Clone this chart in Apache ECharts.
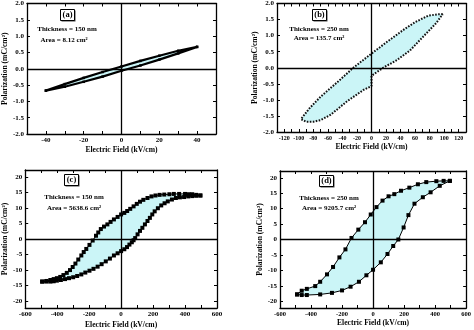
<!DOCTYPE html>
<html><head><meta charset="utf-8">
<script src="https://cdn.jsdelivr.net/npm/echarts@6/dist/echarts.min.js"></script>
<style>html,body{margin:0;padding:0;background:#fff}#c{width:474px;height:330px}</style>
</head><body><div id="c"></div>
<script>
// ---- Panel (a) ----
const aUpperE = [40, 30, 20, 10, 0, -10, -20, -30, -40];
const aUpperP = [0.67, 0.55, 0.40, 0.24, 0.07, -0.10, -0.28, -0.47, -0.67];
const aLowerE = [-40, -30, -20, -10, 0, 10, 20, 30, 40];
const aLowerP = [-0.67, -0.55, -0.40, -0.24, -0.06, 0.10, 0.28, 0.47, 0.67];
// ---- Panel (b) ----
const bUpperE = [98, 90, 78, 60, 44, 21, 0, -25, -47, -70, -86, -97];
const bUpperP = [1.67, 1.66, 1.62, 1.42, 1.18, 0.80, 0.44, 0.00, -0.45, -0.90, -1.28, -1.60];
const bLowerE = [-97, -90, -80, -70, -56, -34, -11, 0, 0, 16, 35, 53, 75, 89, 98];
const bLowerP = [-1.60, -1.68, -1.68, -1.63, -1.46, -1.05, -0.69, -0.57, -0.25, 0.00, 0.24, 0.54, 1.06, 1.39, 1.67];
// ---- Panel (c) ----
const cUpperE = [496, 470, 445, 424, 400, 363, 330, 302, 270, 241, 215, 190, 165, 139, 118, 98, 78, 57, 38, 20, 0, -22, -45, -66, -86, -107, -127, -143, -157, -178, -198, -218, -234, -249, -268, -286, -303, -320, -340, -361, -381, -402, -422, -443, -468, -494];
const cUpperP = [14.0, 14.2, 14.4, 14.4, 14.5, 14.5, 14.5, 14.4, 14.3, 14.2, 14.0, 13.7, 13.2, 12.6, 12.0, 11.3, 10.5, 9.7, 9.0, 8.4, 7.9, 7.1, 6.3, 5.5, 4.7, 4.0, 3.2, 2.1, 1.05, -0.5, -1.9, -3.2, -4.2, -5.3, -6.6, -7.9, -9.0, -10.0, -10.9, -11.6, -12.2, -12.6, -12.9, -13.2, -13.5, -13.7];
const cLowerE = [-494, -468, -443, -422, -402, -377, -351, -326, -300, -275, -249, -224, -198, -173, -147, -122, -96, -70, -45, -22, 0, 20, 37, 52, 67, 78, 88, 103, 118, 133, 149, 165, 180, 195, 210, 230, 251, 272, 292, 318, 343, 368, 394, 420, 445, 470, 496];
const cLowerP = [-13.7, -13.7, -13.7, -13.6, -13.4, -13.2, -12.9, -12.6, -12.3, -11.9, -11.4, -10.8, -10.2, -9.6, -8.9, -8.1, -7.2, -6.3, -5.3, -4.6, -3.9, -3.3, -2.6, -1.8, -1.05, -0.4, 0.3, 1.5, 2.6, 3.6, 4.7, 5.8, 6.8, 7.9, 8.9, 9.9, 10.8, 11.5, 12.1, 12.7, 13.2, 13.4, 13.5, 13.7, 13.8, 13.9, 14.0];
// ---- Panel (d) ----
const dUpperE = [495, 455, 408, 343, 289, 234, 180, 137, 100, 61, 22, -15, -52, -95, -139, -178, -217, -258, -297, -341, -373, -427, -460, -490];
const dUpperP = [19.0, 19.0, 18.9, 18.6, 17.9, 16.8, 15.8, 14.7, 14.0, 12.6, 10.5, 8.1, 5.6, 3.2, 0.5, -3.2, -5.8, -8.9, -11.3, -13.7, -15.1, -16.0, -16.6, -17.8];
const dLowerE = [-490, -460, -427, -341, -265, -200, -145, -91, -43, 0, 50, 93, 130, 163, 197, 228, 267, 321, 371, 430, 495];
const dLowerP = [-17.8, -18.0, -18.0, -17.8, -17.3, -16.5, -15.3, -13.7, -11.6, -9.8, -7.4, -4.7, -2.1, 0.0, 3.9, 7.9, 11.6, 13.7, 15.3, 17.4, 19.0];

// ---- tick labels ----
const aXLabels = [-40, -20, 0, 20, 40];
const aXTicks = [-40, -30, -20, -10, 0, 10, 20, 30, 40];
const abYLabels = [-2.0, -1.5, -1.0, -0.5, 0.0, 0.5, 1.0, 1.5, 2.0];
const bXLabels = [-120, -100, -80, -60, -40, -20, 0, 20, 40, 60, 80, 100, 120];
const bXTicks = [-120, -110, -100, -90, -80, -70, -60, -50, -40, -30, -20, -10, 0, 10, 20, 30, 40, 50, 60, 70, 80, 90, 100, 110, 120];
const cdXLabels = [-600, -400, -200, 0, 200, 400, 600];
const cdXTicks = [-600, -500, -400, -300, -200, -100, 0, 100, 200, 300, 400, 500, 600];
const cdYLabels = [-20, -15, -10, -5, 0, 5, 10, 15, 20];

const zip = (xs, ys) => xs.map((x, i) => [x, ys[i]]);
const loops = [
  zip(aUpperE, aUpperP).concat(zip(aLowerE, aLowerP)),
  zip(bUpperE, bUpperP).concat(zip(bLowerE, bLowerP)),
  zip(cUpperE, cUpperP).concat(zip(cLowerE, cLowerP)),
  zip(dUpperE, dUpperP).concat(zip(dLowerE, dLowerP))
];

const FONT = '"Liberation Serif", "DejaVu Serif", serif';
const FILL = '#cbf5f7';
const grids = [
  {left: 24, top: 1, width: 192, height: 133},
  {left: 277, top: 2, width: 189, height: 130},
  {left: 24, top: 170, width: 193, height: 139},
  {left: 280, top: 171, width: 189, height: 137}
];
const xCfg = [
  {min: -50, max: 50, labels: aXLabels, ticks: aXTicks, fs: 7, gap: 12},
  {min: -130, max: 130, labels: bXLabels, ticks: bXTicks, fs: 6, gap: 11},
  {min: -600, max: 600, labels: cdXLabels, ticks: cdXTicks, fs: 7, gap: 13},
  {min: -600, max: 600, labels: cdXLabels, ticks: cdXTicks, fs: 6.5, gap: 8}
];
const yCfg = [
  {min: -2, max: 2, labels: abYLabels, fmt: v => Number(v).toFixed(1), gap: 13},
  {min: -2, max: 2, labels: abYLabels, fmt: v => Number(v).toFixed(1), gap: 14},
  {min: -22.2, max: 22.2, labels: cdYLabels, fmt: v => String(v), gap: 14},
  {min: -22.2, max: 22.2, labels: cdYLabels, fmt: v => String(v), gap: 13}
];

const axLine = {onZero: false, lineStyle: {color: '#000', width: 1.3}};
const xAxis = [], yAxis = [], series = [];
for (let i = 0; i < 4; i++) {
  const xc = xCfg[i], yc = yCfg[i];
  xAxis.push({
    gridIndex: i, type: 'value', position: 'bottom', min: xc.min, max: xc.max,
    axisLine: axLine,
    axisTick: {inside: true, length: 3, customValues: xc.ticks, lineStyle: {color: '#000'}},
    axisLabel: {customValues: xc.labels, fontFamily: FONT, fontWeight: 'bold', fontSize: xc.fs, color: '#000', margin: 3},
    splitLine: {show: false},
    name: 'Electric Field (kV/cm)', nameLocation: 'middle', nameGap: xc.gap,
    nameTextStyle: {fontFamily: FONT, fontWeight: 'bold', fontSize: 7.6, color: '#000'}
  });
  xAxis.push({
    gridIndex: i, type: 'value', position: 'top', min: xc.min, max: xc.max,
    axisLine: axLine,
    axisTick: {inside: true, length: 3, customValues: xc.ticks, lineStyle: {color: '#000'}},
    axisLabel: {show: false}, splitLine: {show: false}
  });
  yAxis.push({
    gridIndex: i, type: 'value', position: 'left', min: yc.min, max: yc.max,
    axisLine: axLine,
    axisTick: {inside: true, length: 3, customValues: yc.labels, lineStyle: {color: '#000'}},
    axisLabel: {customValues: yc.labels, formatter: yc.fmt, fontFamily: FONT, fontWeight: 'bold', fontSize: 7, color: '#000', margin: 3},
    splitLine: {show: false},
    name: 'Polarization (mC/cm²)', nameLocation: 'middle', nameGap: yc.gap,
    nameTextStyle: {fontFamily: FONT, fontWeight: 'bold', fontSize: 7.6, color: '#000'}
  });
  yAxis.push({
    gridIndex: i, type: 'value', position: 'right', min: yc.min, max: yc.max,
    axisLine: axLine,
    axisTick: {inside: true, length: 3, customValues: yc.labels, lineStyle: {color: '#000'}},
    axisLabel: {show: false}, splitLine: {show: false}
  });
  const loop = loops[i];
  series.push({
    type: 'custom', xAxisIndex: 2 * i, yAxisIndex: 2 * i, data: [[0, 0]], silent: true, z: 1,
    renderItem: (params, api) => ({
      type: 'polygon',
      shape: {points: loop.map(p => api.coord(p))},
      style: {fill: FILL, stroke: 'none'}
    })
  });
  const st = [
    {symbol: 'rect', symbolSize: 2.5, lineStyle: {color: '#000', width: 2.2}},
    {symbol: 'none', symbolSize: 0, lineStyle: {color: '#111', width: 2, type: [1.6, 1.4]}},
    {symbol: 'rect', symbolSize: 4, lineStyle: {color: '#000', width: 1}},
    {symbol: 'rect', symbolSize: 4, lineStyle: {color: '#000', width: 1}}
  ][i];
  series.push({
    type: 'line', xAxisIndex: 2 * i, yAxisIndex: 2 * i, data: loop, z: 3,
    symbol: st.symbol, symbolSize: st.symbolSize, showSymbol: st.symbol !== 'none',
    lineStyle: st.lineStyle, itemStyle: {color: '#000'}, silent: true,
    markLine: {
      silent: true, symbol: ['none', 'none'], label: {show: false},
      lineStyle: {color: '#000', width: 1.3, type: 'solid'},
      data: [{xAxis: 0}, {yAxis: 0}]
    }
  });
}

function tag(txt, cx, cy) {
  return {
    type: 'group', children: [
      {type: 'rect', shape: {x: cx - 6.5, y: cy - 4.5, width: 14, height: 11}, style: {fill: '#444'}},
      {type: 'rect', shape: {x: cx - 7.5, y: cy - 5.5, width: 14, height: 11}, style: {fill: '#fff', stroke: '#000', lineWidth: 1}},
      {type: 'text', x: cx - 0.5, y: cy, style: {text: txt, font: 'bold 8.5px ' + FONT, fill: '#000', align: 'center', verticalAlign: 'middle'}}
    ]
  };
}
function note(txt, cx, cy) {
  return {type: 'text', x: cx, y: cy, style: {text: txt, font: 'bold 7px ' + FONT, fill: '#000', align: 'center', verticalAlign: 'middle'}};
}

const chart = echarts.init(document.getElementById('c'), null, {renderer: 'canvas'});
chart.setOption({
  animation: false,
  backgroundColor: '#fff',
  grid: grids,
  xAxis, yAxis, series,
  graphic: [
    tag('(a)', 68, 15), note('Thickness = 150 nm', 67, 29), note('Area = 8.12 cm²', 64, 40),
    tag('(b)', 320, 15), note('Thickness = 250 nm', 319, 29), note('Area = 135.7 cm²', 319, 38),
    tag('(c)', 72, 180), note('Thickness = 150 nm', 74, 197), note('Area = 5638.6 cm²', 74, 208),
    tag('(d)', 327, 181), note('Thickness = 250 nm', 329, 198), note('Area = 9205.7 cm²', 329, 208)
  ]
});
</script></body></html>
